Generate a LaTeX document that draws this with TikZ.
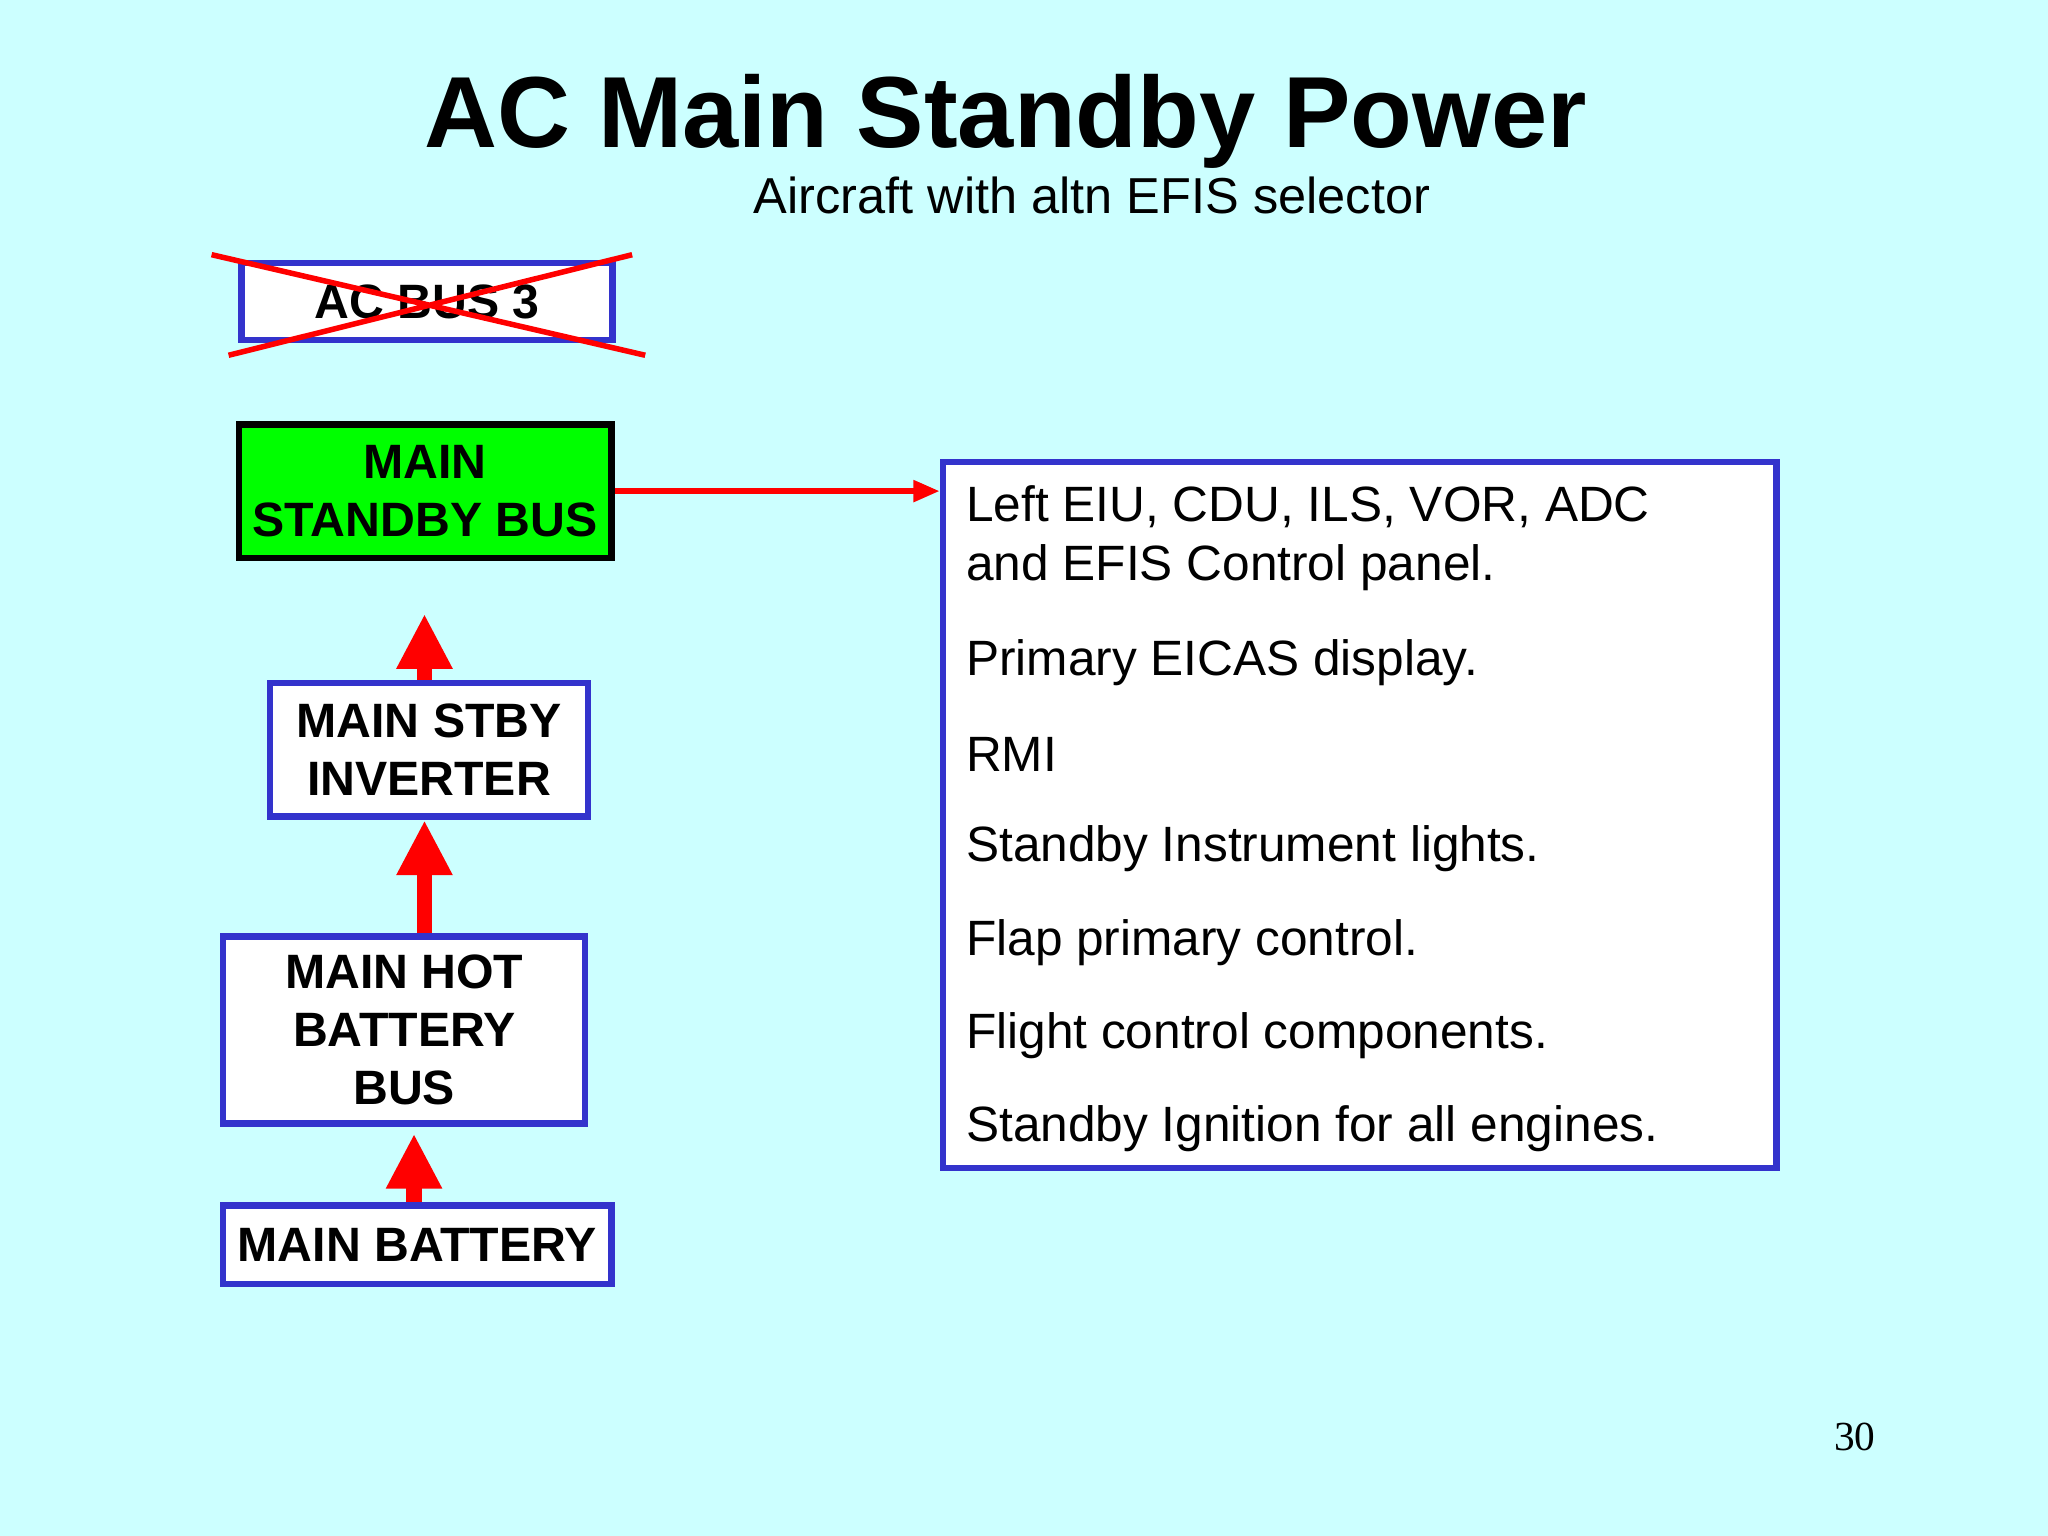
\documentclass[tikz,border=0pt]{standalone}
\usepackage{fontspec}
\setmainfont{Liberation Sans}
\usetikzlibrary{arrows.meta}
\definecolor{bg}{HTML}{CCFFFF}
\definecolor{bl}{HTML}{3333CC}
\definecolor{gr}{HTML}{00FF00}
\begin{document}
\begin{tikzpicture}[x=0.01cm,y=-0.01cm,
  box/.style={draw=bl,line width=1.4pt,fill=white,align=center,inner sep=0pt,font=\fontsize{10.5pt}{12.6pt}\selectfont\bfseries},
  item/.style={anchor=west,inner sep=0pt,font=\fontsize{10.8pt}{13pt}\selectfont},
  fat/.style={red,line width=0.12cm,-{Triangle[width=0.4cm,length=0.42cm]}}]
\fill[bg] (0,0) rectangle (1568,1176);
\useasboundingbox (0,0) rectangle (1568,1176);
\node[font=\fontsize{22pt}{26pt}\selectfont\bfseries] (title) at (770,93) {AC Main Standby Power};
\node[font=\fontsize{11pt}{13pt}\selectfont] (sub) at (836,150) {Aircraft with altn EFIS selector};
\node[box,minimum width=2.84cm,minimum height=0.59cm] (ac3) at (327,231) {AC BUS 3};
\draw[red,line width=1.2pt] (162,195) -- (494,272) (175,272) -- (484,195);
\node[box,draw=black,fill=gr,minimum width=2.85cm,minimum height=1.02cm] (msb) at (325.5,376) {MAIN\\STANDBY BUS};
\node[box,minimum width=2.43cm,minimum height=1.02cm] (inv) at (328.5,574) {MAIN STBY\\INVERTER};
\node[box,minimum width=2.77cm,minimum height=1.43cm] (hbb) at (309.5,788.5) {MAIN HOT\\BATTERY\\BUS};
\node[box,minimum width=2.97cm,minimum height=0.6cm] (bat) at (319.5,953) {MAIN BATTERY};
\node[draw=bl,line width=1.4pt,fill=white,minimum width=6.38cm,minimum height=5.4cm,inner sep=0pt] (loads) at (1041,624) {};
\draw[red,line width=1.2pt,-{Triangle[width=0.16cm,length=0.2cm]}] (msb.east) -- (loads.west|-msb.east);
\draw[fat] (inv.north -| 325,0) -- (325,470);
\draw[fat] (hbb.north -| 325,0) -- (325,628);
\draw[fat] (bat.north -| 317,0) -- (317,868);
\node[item] (l1) at (739,388) {Left EIU, CDU, ILS, VOR, ADC};
\node[item] (l2) at (739,435) {and EFIS Control panel.};
\node[item] (l3) at (739,507) {Primary EICAS display.};
\node[item] (l4) at (739,578) {RMI};
\node[item] (l5) at (739,650) {Standby Instrument lights.};
\node[item] (l6) at (739,722) {Flap primary control.};
\node[item] (l7) at (739,793) {Flight control components.};
\node[item] (l8) at (739,864) {Standby Ignition for all engines.};
\node[font=\fontfamily{lmr}\fontsize{9pt}{11pt}\selectfont] (pg) at (1420,1100) {\setmainfont{Liberation Serif}\selectfont 30};
\end{tikzpicture}
\end{document}
